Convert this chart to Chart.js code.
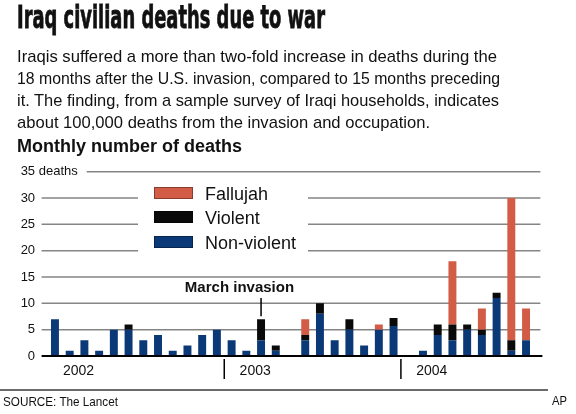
<!DOCTYPE html>
<html>
<head>
<meta charset="utf-8">
<script src="https://cdn.jsdelivr.net/npm/chart.js@4"></script>
<style>
  body { margin: 0; background: #fff; }
  #wrap { position: relative; width: 576px; height: 414px; background: #fff; overflow: hidden; }
  #box { position: absolute; left: 0; top: 0; width: 576px; height: 414px; }
  .t { position: absolute; white-space: nowrap; line-height: 1; transform-origin: 0 0; color: #111;
       font-family: "Liberation Sans", Arial, sans-serif; }
  #title { font-family: "Liberation Sans Narrow", "DejaVu Sans Condensed", "Liberation Sans", sans-serif;
           font-weight: bold; font-size: 32px; left: 17px; top: 1px; -webkit-text-stroke: 0.8px #111; }
  .sub { font-size: 17px; left: 17px; }
  #monthly { font-size: 18px; font-weight: bold; left: 17px; top: 136.5px; }
  #source { font-size: 13px; left: 3px; top: 395px; }
  #ap { font-size: 13px; left: 552px; top: 394px; }
  #rule { position: absolute; left: 0; top: 389px; width: 548px; height: 2px; background: #6b6b6b; }
</style>
</head>
<body>
<div id="wrap">
  <div id="box"><canvas id="chart"></canvas></div>
  <div class="t" id="title">Iraq civilian deaths due to war</div>
  <div class="t sub" id="s1" style="top:47.6px">Iraqis suffered a more than two-fold increase in deaths during the</div>
  <div class="t sub" id="s2" style="top:70px">18 months after the U.S. invasion, compared to 15 months preceding</div>
  <div class="t sub" id="s3" style="top:92.4px">it. The finding, from a sample survey of Iraqi households, indicates</div>
  <div class="t sub" id="s4" style="top:114px">about 100,000 deaths from the invasion and occupation.</div>
  <div class="t" id="monthly">Monthly number of deaths</div>
  <div id="rule"></div>
  <div class="t" id="source">SOURCE: The Lancet</div>
  <div class="t" id="ap">AP</div>
</div>
<script>
// Meses de jan/2002 a set/2004
const months = [
  'Jan 02', 'Feb 02', 'Mar 02', 'Apr 02', 'May 02', 'Jun 02', 'Jul 02', 'Aug 02', 'Sep 02', 'Oct 02', 'Nov 02', 'Dec 02',
  'Jan 03', 'Feb 03', 'Mar 03', 'Apr 03', 'May 03', 'Jun 03', 'Jul 03', 'Aug 03', 'Sep 03', 'Oct 03', 'Nov 03', 'Dec 03',
  'Jan 04', 'Feb 04', 'Mar 04', 'Apr 04', 'May 04', 'Jun 04', 'Jul 04', 'Aug 04', 'Sep 04'
];
const nonViolent = [7, 1, 3, 1, 5, 5, 3, 4, 1, 2, 4, 5,
                    3, 1, 3, 1, 0, 3, 8, 3, 5, 2, 5, 5.7,
                    0, 1, 4, 3, 5, 4, 11, 1, 3];
const violent    = [0, 0, 0, 0, 0, 1, 0, 0, 0, 0, 0, 0,
                    0, 0, 4, 1, 0, 1, 2, 0, 2, 0, 0, 1.5,
                    0, 0, 2, 3, 1, 1, 1, 2, 0];
const fallujah   = [0, 0, 0, 0, 0, 0, 0, 0, 0, 0, 0, 0,
                    0, 0, 0, 0, 0, 3, 0, 0, 0, 0, 1, 0,
                    0, 0, 0, 12, 0, 4, 0, 27, 6];
const yTicks = [0, 5, 10, 15, 20, 25, 30, 35];
const years = ['2002', '2003', '2004'];
const yearStart = [0, 12, 24];
const invasionIndex = 14;

const colors = { fallujah: '#d25c46', violent: '#0a0a0a', nonViolent: '#0b3877' };
const FONT = '"Liberation Sans", Arial, sans-serif';

// ajusta larguras dos textos em HTML
function fit(id, w) {
  const el = document.getElementById(id);
  const r = el.getBoundingClientRect().width;
  el.style.transform = 'scaleX(' + (w / r) + ')';
}
fit('title', 308);
fit('s1', 480);
fit('s2', 483);
fit('s3', 482);
fit('s4', 413);
fit('monthly', 225);
fit('source', 115);
fit('ap', 15);

const extras = {
  id: 'extras',
  beforeDatasetsDraw(chart) {
    const { ctx, chartArea, scales: { y } } = chart;
    const x0 = chartArea.left - 6, x1 = chartArea.right + 7;
    ctx.save();
    ctx.strokeStyle = '#858585';
    ctx.lineWidth = 1.5;
    ctx.font = '13px ' + FONT;
    const labelX = chartArea.left - 12.5;
    yTicks.forEach(v => {
      if (v === 0) return;
      const py = y.getPixelForValue(v);
      let segs = [[x0, x1]];
      if (v === 35) segs = [[labelX + ctx.measureText(' deaths').width + 9, x1]];
      else if (v >= 20 && v <= 30) segs = [[x0, 138], [308, x1]];
      segs.forEach(s => {
        ctx.beginPath();
        ctx.moveTo(s[0], py);
        ctx.lineTo(s[1], py);
        ctx.stroke();
      });
    });
    ctx.restore();
  },
  afterDatasetsDraw(chart) {
    const { ctx, chartArea, scales: { x, y } } = chart;
    ctx.save();
    // linha de base
    const base = y.getPixelForValue(0);
    ctx.strokeStyle = '#000';
    ctx.lineWidth = 2;
    ctx.beginPath();
    ctx.moveTo(chartArea.left - 6, base);
    ctx.lineTo(chartArea.right + 9, base);
    ctx.stroke();

    // rótulos do eixo y
    ctx.fillStyle = '#111';
    ctx.font = '13px ' + FONT;
    ctx.textBaseline = 'middle';
    const labelX = chartArea.left - 12.5;
    yTicks.forEach(v => {
      const py = y.getPixelForValue(v);
      ctx.textAlign = 'right';
      ctx.fillText(String(v), labelX, py);
      if (v === 35) {
        ctx.textAlign = 'left';
        ctx.fillText(' deaths', labelX, py);
      }
    });

    // anos e divisórias
    const step = x.getPixelForValue(1) - x.getPixelForValue(0);
    ctx.textAlign = 'center';
    ctx.textBaseline = 'alphabetic';
    ctx.font = '14px ' + FONT;
    years.forEach((yr, i) => {
      const px = x.getPixelForValue(yearStart[i]) + 1.6 * step;
      ctx.fillText(yr, px, base + 19);
      if (i > 0) {
        const dx = x.getPixelForValue(yearStart[i]) - step / 2;
        ctx.lineWidth = 1.5;
        ctx.beginPath();
        ctx.moveTo(dx, base + 3);
        ctx.lineTo(dx, base + 23);
        ctx.stroke();
      }
    });

    // invasão de março
    const ix = x.getPixelForValue(invasionIndex);
    const top = y.getPixelForValue(nonViolent[invasionIndex] + violent[invasionIndex] + fallujah[invasionIndex]);
    ctx.lineWidth = 1.5;
    ctx.beginPath();
    ctx.moveTo(ix, 298);
    ctx.lineTo(ix, top - 3);
    ctx.stroke();
    ctx.font = 'bold 15px ' + FONT;
    ctx.textAlign = 'right';
    ctx.fillText('March invasion', ix + 33, 292);

    // legenda
    const items = [['Fallujah', colors.fallujah, 187], ['Violent', colors.violent, 211], ['Non-violent', colors.nonViolent, 236]];
    ctx.font = '18px ' + FONT;
    ctx.textAlign = 'left';
    items.forEach(it => {
      ctx.fillStyle = it[1];
      ctx.fillRect(154, it[2], 39, 12);
      ctx.strokeStyle = 'rgba(0,0,0,0.35)';
      ctx.lineWidth = 1;
      ctx.strokeRect(154.5, it[2] + 0.5, 38, 11);
      ctx.fillStyle = '#111';
      ctx.fillText(it[0], 205, it[2] + 12.8);
    });
    ctx.restore();
  }
};

new Chart(document.getElementById('chart'), {
  type: 'bar',
  data: {
    labels: months,
    datasets: [
      { label: 'Non-violent', data: nonViolent, backgroundColor: colors.nonViolent },
      { label: 'Violent', data: violent, backgroundColor: colors.violent },
      { label: 'Fallujah', data: fallujah, backgroundColor: colors.fallujah }
    ]
  },
  options: {
    responsive: true,
    maintainAspectRatio: false,
    animation: false,
    layout: { padding: { left: 47.6, right: 42.6, top: 171.7, bottom: 58 } },
    datasets: { bar: { barPercentage: 0.54, categoryPercentage: 1, borderWidth: 0 } },
    plugins: { legend: { display: false }, tooltip: { enabled: false } },
    scales: {
      x: { stacked: true, display: false },
      y: { stacked: true, display: false, min: 0, max: 35 }
    }
  },
  plugins: [extras]
});
</script>
</body>
</html>
